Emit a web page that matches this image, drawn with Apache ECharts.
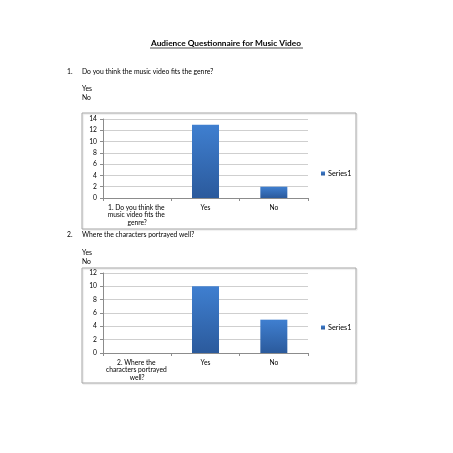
<!DOCTYPE html>
<html><head><meta charset="utf-8">
<script src="https://cdn.jsdelivr.net/npm/echarts@6/dist/echarts.min.js"></script>
<style>html,body{margin:0;padding:0;background:#fff}#c{width:453px;height:453px}</style>
</head><body><div id="c"></div>
<script>
const docTitle = 'Audience Questionnaire for Music Video';
const q1Number = '1.';
const q1Text = 'Do you think the music video fits the genre?';
const q2Number = '2.';
const q2Text = 'Where the characters portrayed well?';
const answerOptions = ['Yes', 'No'];
const seriesName = 'Series1';
const q1Categories = ['1. Do you think the music video fits the genre?', 'Yes', 'No'];
const q1Values = ['-', 13, 2];
const q1YAxis = [0, 14, 2]; // min, max, interval
const q2Categories = ['2. Where the characters portrayed well?', 'Yes', 'No'];
const q2Values = ['-', 10, 5];
const q2YAxis = [0, 12, 2];

const FONT = 'Lato';
const chart = echarts.init(document.getElementById('c'));
const barColor = new echarts.graphic.LinearGradient(0, 0, 0, 1, [
  {offset: 0, color: '#3f7fd0'}, {offset: 1, color: '#2b5a9c'}
]);
const txt = (x, y, s, extra) => ({type: 'text', left: x, top: y, style: Object.assign({text: s, fontFamily: FONT, fontSize: 6.8, fill: '#000'}, extra || {})});
const box = (y, h) => ({type: 'rect', shape: {x: 82, y: y, width: 274, height: h}, style: {fill: 'rgba(0,0,0,0)', stroke: '#a6a6a6', lineWidth: 1, shadowBlur: 1, shadowColor: 'rgba(0,0,0,0.12)', shadowOffsetX: 1, shadowOffsetY: 1}, z: 0});

function xAxisFor(cats, gridIndex) {
  return {type: 'category', gridIndex, data: cats, boundaryGap: true,
    axisLine: {lineStyle: {color: '#8c8c8c'}},
    axisTick: {show: true, length: 3, lineStyle: {color: '#8c8c8c'}},
    axisLabel: {interval: 0, fontFamily: FONT, fontSize: 6.7, color: '#000', width: 64, overflow: 'break', lineHeight: 7.4, margin: 6}};
}
function yAxisFor(cfg, gridIndex) {
  return {type: 'value', gridIndex, min: cfg[0], max: cfg[1], interval: cfg[2],
    axisLine: {show: true, lineStyle: {color: '#8c8c8c'}},
    axisTick: {show: true, length: 3, lineStyle: {color: '#8c8c8c'}},
    splitLine: {lineStyle: {color: '#cfcfcf'}},
    axisLabel: {fontFamily: FONT, fontSize: 6.7, color: '#000', margin: 6}};
}
const legendStyle = {fontFamily: FONT, fontSize: 7.3, color: '#000', padding: [0, 0, 0, -2]};

chart.setOption({
  backgroundColor: '#fff',
  animation: false,
  grid: [
    {left: 103, top: 119, width: 205, height: 79},
    {left: 103, top: 273, width: 205, height: 80}
  ],
  xAxis: [xAxisFor(q1Categories, 0), xAxisFor(q2Categories, 1)],
  yAxis: [yAxisFor(q1YAxis, 0), yAxisFor(q2YAxis, 1)],
  legend: [
    {data: [seriesName], left: 316, top: 165, itemWidth: 4, itemHeight: 4, icon: 'rect', textStyle: legendStyle},
    {data: [seriesName], left: 316, top: 319, itemWidth: 4, itemHeight: 4, icon: 'rect', textStyle: legendStyle}
  ],
  series: [
    {name: seriesName, type: 'bar', xAxisIndex: 0, yAxisIndex: 0, data: q1Values, barWidth: 27, itemStyle: {color: barColor}},
    {name: seriesName, type: 'bar', xAxisIndex: 1, yAxisIndex: 1, data: q2Values, barWidth: 27, itemStyle: {color: barColor}}
  ],
  graphic: [
    box(113, 116),
    box(268, 115),
    {type: 'text', x: 226, y: 43, style: {text: docTitle, fontFamily: FONT, fontSize: 8.3, fontWeight: 'bold', fill: '#000', textAlign: 'center', textVerticalAlign: 'middle'}},
    {type: 'line', shape: {x1: 150, y1: 48, x2: 303, y2: 48}, style: {stroke: '#000', lineWidth: 0.7}},
    txt(67, 68, q1Number),
    txt(82, 68, q1Text),
    txt(82, 85.5, answerOptions[0]),
    txt(82, 94.5, answerOptions[1]),
    txt(67, 231, q2Number),
    txt(82, 231, q2Text),
    txt(82, 249.5, answerOptions[0]),
    txt(82, 258.5, answerOptions[1])
  ]
});
</script></body></html>
